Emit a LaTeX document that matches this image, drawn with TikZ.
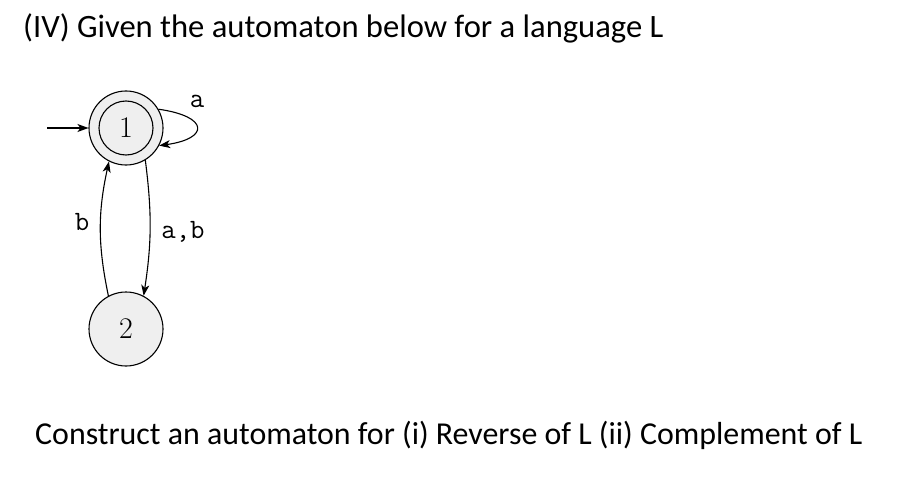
\documentclass[tikz,border=0pt]{standalone}
\usepackage{fontspec}
\setmainfont{Carlito}
\newfontfamily\lmroman{Latin Modern Roman}
\newfontfamily\lmmono{Latin Modern Mono}
\usetikzlibrary{arrows.meta}
\definecolor{statefill}{HTML}{EFEFEF}
\tikzset{
  statebox/.style={circle, draw, line width=1.1pt, fill=statefill, minimum size=74pt, inner sep=0pt},
  innerbox/.style={circle, draw, line width=1.1pt, minimum size=54pt, inner sep=0pt, font=\lmroman\fontsize{30}{30}\selectfont},
  numlabel/.style={font=\lmroman\fontsize{30}{30}\selectfont},
  edgelabel/.style={font=\lmmono\fontsize{28}{28}\selectfont, inner sep=0pt},
  textline/.style={inner sep=0pt, anchor=base west},
  trans/.style={line width=1.1pt, -{Stealth[length=11pt, width=8pt, inset=3pt]}}
}
\begin{document}
\begin{tikzpicture}[x=1pt, y=-1pt]
\useasboundingbox (0,0) rectangle (910,484);
\node[textline, font=\fontsize{32.6}{36}\selectfont] (title) at (23,38) {(IV) Given the automaton below for a language L};
\node[textline, font=\fontsize{31.9}{36}\selectfont] (task) at (35,444) {Construct an automaton for (i) Reverse of L (ii) Complement of L};
\node[statebox] (q1) at (126,128) {};
\node[innerbox] (q1in) at (q1) {1};
\node[statebox, numlabel] (q2) at (126,329) {2};
\coordinate (start) at (47,128);
\draw[trans] (start) -- (q1.west);
\draw[trans] (q1.30) .. controls +(8:51) and +(-8:51) .. (q1.-28);
\draw[trans] (q1.-59) to[bend left=8] (q2.62);
\draw[trans] (q2.118) to[bend left=12] (q1.243);
\node[edgelabel] (la) at (197,101) {a};
\node[edgelabel] (lb) at (82,222) {b};
\node[edgelabel] (lab) at (183,232) {a,b};
\end{tikzpicture}
\end{document}
